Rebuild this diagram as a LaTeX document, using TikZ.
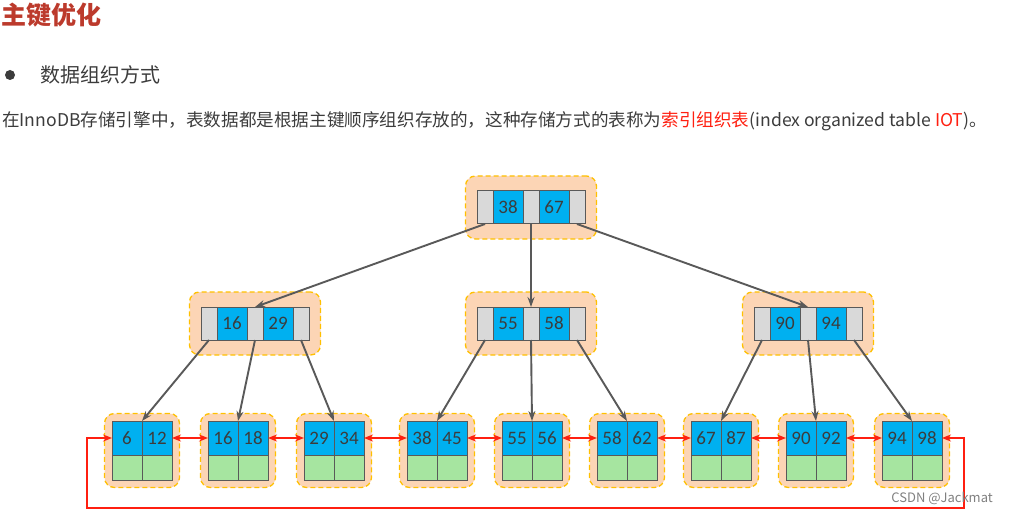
\documentclass[tikz,border=0pt]{standalone}
\usepackage{fontspec}
\usetikzlibrary{positioning,fit,backgrounds,arrows.meta}
\newfontfamily\cjk{Noto Sans CJK SC}
\newfontfamily\numfont{Carlito}
\definecolor{peach}{HTML}{FCD5B5}
\definecolor{gold}{HTML}{FFC000}
\definecolor{keyblue}{HTML}{00B0F0}
\definecolor{ptrgray}{HTML}{D9D9D9}
\definecolor{datgreen}{HTML}{A6E5A0}
\definecolor{edgegray}{HTML}{595959}
\definecolor{linkred}{HTML}{FF1F10}
\definecolor{titlered}{HTML}{BC3A2C}
\definecolor{txtgray}{HTML}{3C3C3C}

\begin{document}
\begin{tikzpicture}[x=1pt, y=-1pt]
\tikzstyle{cell}=[draw=edgegray, line width=1pt, inner sep=0pt, outer sep=0pt, font=\numfont\fontsize{19}{19}\selectfont, text=txtgray]
\tikzstyle{pcell}=[cell, fill=ptrgray, minimum width=16pt, minimum height=33pt]
\tikzstyle{kcell}=[cell, fill=keyblue, minimum width=30pt, minimum height=33pt]
\tikzstyle{lkey}=[cell, fill=keyblue, minimum width=30pt, minimum height=34pt]
\tikzstyle{ldat}=[cell, fill=datgreen, minimum width=30pt, minimum height=25pt]
\tikzstyle{pg}=[draw=gold, fill=peach, dash pattern=on 5pt off 3pt, line width=1.3pt, rounded corners=10pt]
\tikzstyle{ipg}=[pg, inner xsep=11.5pt, inner ysep=15pt]
\tikzstyle{lpg}=[pg, inner sep=7.5pt]
\tikzstyle{tree}=[-{Stealth[length=10pt,width=7pt]}, draw=edgegray, line width=1.9pt]
\tikzstyle{link}=[{Stealth[length=9pt,width=7pt]}-{Stealth[length=9pt,width=7pt]}, draw=linkred, line width=2pt]
\useasboundingbox (0,0) rectangle (1009,513);

% heading and text
\node[anchor=west, inner sep=0pt, font=\cjk\bfseries\fontsize{25}{25}\selectfont, text=titlered] (title) at (1,15) {主键优化};
\node[circle, fill=txtgray, inner sep=0pt, minimum size=10pt] (dot) at (10,75) {};
\node[anchor=west, inner sep=0pt, font=\cjk\fontsize{20}{20}\selectfont, text=txtgray] (sub) at (40,75) {数据组织方式};
\node[anchor=west, inner sep=0pt, font=\cjk\fontsize{17.6}{17.6}\selectfont, text=txtgray] (desc) at (2,121)
  {在InnoDB存储引擎中，表数据都是根据主键顺序组织存放的，这种存储方式的表称为\textcolor{linkred}{索引组织表}(index organized table \textcolor{linkred}{IOT})。};

% root page
\node[pcell, anchor=north west] (rp1) at (477,191) {};
\node[kcell] (rk1) [right=0pt of rp1] {38};
\node[pcell] (rp2) [right=0pt of rk1] {};
\node[kcell] (rk2) [right=0pt of rp2] {67};
\node[pcell] (rp3) [right=0pt of rk2] {};

% second level
\node[pcell, anchor=north west] (ap1) at (201,307) {};
\node[kcell] (ak1) [right=0pt of ap1] {16};
\node[pcell] (ap2) [right=0pt of ak1] {};
\node[kcell] (ak2) [right=0pt of ap2] {29};
\node[pcell] (ap3) [right=0pt of ak2] {};

\node[pcell, anchor=north west] (bp1) at (477,307) {};
\node[kcell] (bk1) [right=0pt of bp1] {55};
\node[pcell] (bp2) [right=0pt of bk1] {};
\node[kcell] (bk2) [right=0pt of bp2] {58};
\node[pcell] (bp3) [right=0pt of bk2] {};

\node[pcell, anchor=north west] (cp1) at (754,307) {};
\node[kcell] (ck1) [right=0pt of cp1] {90};
\node[pcell] (cp2) [right=0pt of ck1] {};
\node[kcell] (ck2) [right=0pt of cp2] {94};
\node[pcell] (cp3) [right=0pt of ck2] {};

% leaves
\node[lkey, anchor=north west] (l1a) at (112,421) {6};
\node[lkey] (l1b) [right=0pt of l1a] {12};
\node[ldat] (l1c) [below=0pt of l1a] {};
\node[ldat] (l1d) [below=0pt of l1b] {};

\node[lkey, anchor=north west] (l2a) at (208,421) {16};
\node[lkey] (l2b) [right=0pt of l2a] {18};
\node[ldat] (l2c) [below=0pt of l2a] {};
\node[ldat] (l2d) [below=0pt of l2b] {};

\node[lkey, anchor=north west] (l3a) at (304,421) {29};
\node[lkey] (l3b) [right=0pt of l3a] {34};
\node[ldat] (l3c) [below=0pt of l3a] {};
\node[ldat] (l3d) [below=0pt of l3b] {};

\node[lkey, anchor=north west] (l4a) at (407,421) {38};
\node[lkey] (l4b) [right=0pt of l4a] {45};
\node[ldat] (l4c) [below=0pt of l4a] {};
\node[ldat] (l4d) [below=0pt of l4b] {};

\node[lkey, anchor=north west] (l5a) at (502,421) {55};
\node[lkey] (l5b) [right=0pt of l5a] {56};
\node[ldat] (l5c) [below=0pt of l5a] {};
\node[ldat] (l5d) [below=0pt of l5b] {};

\node[lkey, anchor=north west] (l6a) at (597,421) {58};
\node[lkey] (l6b) [right=0pt of l6a] {62};
\node[ldat] (l6c) [below=0pt of l6a] {};
\node[ldat] (l6d) [below=0pt of l6b] {};

\node[lkey, anchor=north west] (l7a) at (691,421) {67};
\node[lkey] (l7b) [right=0pt of l7a] {87};
\node[ldat] (l7c) [below=0pt of l7a] {};
\node[ldat] (l7d) [below=0pt of l7b] {};

\node[lkey, anchor=north west] (l8a) at (786,421) {90};
\node[lkey] (l8b) [right=0pt of l8a] {92};
\node[ldat] (l8c) [below=0pt of l8a] {};
\node[ldat] (l8d) [below=0pt of l8b] {};

\node[lkey, anchor=north west] (l9a) at (882,421) {94};
\node[lkey] (l9b) [right=0pt of l9a] {98};
\node[ldat] (l9c) [below=0pt of l9a] {};
\node[ldat] (l9d) [below=0pt of l9b] {};

% page backgrounds
\begin{scope}[on background layer]
\node[ipg, fit=(rp1)(rp3)] (root) {};
\node[ipg, fit=(ap1)(ap3)] (pga) {};
\node[ipg, fit=(bp1)(bp3)] (pgb) {};
\node[ipg, fit=(cp1)(cp3)] (pgc) {};
\node[lpg, fit=(l1a)(l1d)] (leaf1) {};
\node[lpg, fit=(l2a)(l2d)] (leaf2) {};
\node[lpg, fit=(l3a)(l3d)] (leaf3) {};
\node[lpg, fit=(l4a)(l4d)] (leaf4) {};
\node[lpg, fit=(l5a)(l5d)] (leaf5) {};
\node[lpg, fit=(l6a)(l6d)] (leaf6) {};
\node[lpg, fit=(l7a)(l7d)] (leaf7) {};
\node[lpg, fit=(l8a)(l8d)] (leaf8) {};
\node[lpg, fit=(l9a)(l9d)] (leaf9) {};
\end{scope}

% tree pointers
\path
(rp1.south) edge[tree] (ap2.north)
(rp2.south) edge[tree] (bp2.north)
(rp3.south) edge[tree] (cp2.north)
(ap1.south) edge[tree] (l1a.north east)
(ap2.south) edge[tree] (l2a.north east)
(ap3.south) edge[tree] (l3a.north east)
(bp1.south) edge[tree] (l4a.north east)
(bp2.south) edge[tree] (l5a.north east)
(bp3.south) edge[tree] (l6a.north east)
(cp1.south) edge[tree] (l7a.north east)
(cp2.south) edge[tree] (l8a.north east)
(cp3.south) edge[tree] (l9a.north east);

% leaf links
\path
(l1b.east) edge[link] (l2a.west)
(l2b.east) edge[link] (l3a.west)
(l3b.east) edge[link] (l4a.west)
(l4b.east) edge[link] (l5a.west)
(l5b.east) edge[link] (l6a.west)
(l6b.east) edge[link] (l7a.west)
(l7b.east) edge[link] (l8a.west)
(l8b.east) edge[link] (l9a.west);
\coordinate (lpL) at (87,508);
\coordinate (lpR) at (964,508);
\draw[link] (l1a.west) -| (lpL) -- (lpR) |- (l9b.east);

\node[anchor=east, inner sep=0pt, font=\cjk\fontsize{13}{13}\selectfont, text=gray] (mark) at (993,498) {CSDN @Jackmat};
\end{tikzpicture}
\end{document}
